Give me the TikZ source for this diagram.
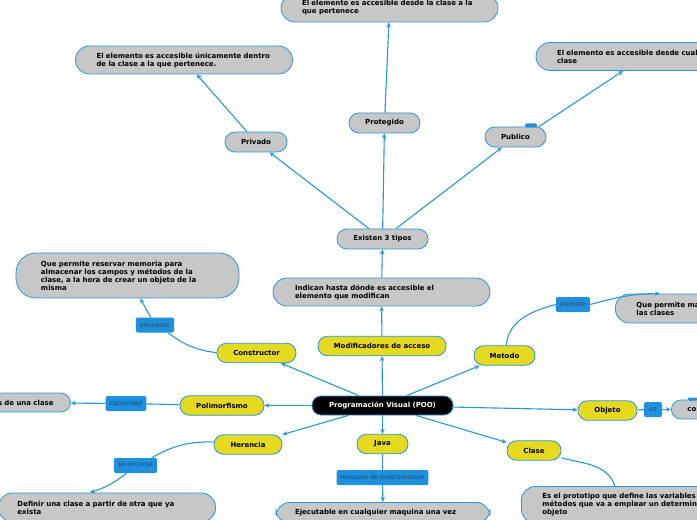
\documentclass[tikz,border=0pt]{standalone}
\usepackage{fontspec}
\setmainfont{DejaVu Sans}
\usetikzlibrary{arrows.meta,calc}

\definecolor{linkblue}{RGB}{38,152,224}
\definecolor{tagblue}{RGB}{30,144,222}
\definecolor{tagtext}{RGB}{36,70,110}
\definecolor{topicyellow}{RGB}{230,218,32}
\definecolor{notegray}{RGB}{199,199,199}

\begin{document}
\begin{tikzpicture}[x=1bp,y=-1bp,
  every node/.style={font=\bfseries\fontsize{7}{8}\selectfont, inner sep=0pt},
  root/.style={fill=black, text=white, draw=linkblue, line width=0.8bp, rounded corners=9bp, minimum height=19bp},
  topic/.style={fill=topicyellow, draw=linkblue, line width=0.8bp, rounded corners=9.5bp, minimum height=19.5bp},
  note/.style={fill=notegray, draw=linkblue, line width=0.8bp, rounded corners=10bp, minimum height=20bp},
  textnote/.style={note, align=left, inner xsep=21bp, text width=175bp, minimum height=28bp, rounded corners=14bp},
  tag/.style={fill=tagblue, text=tagtext, rounded corners=2bp, minimum height=15bp, inner xsep=4bp, font=\fontsize{6.4}{7}\selectfont},
  link/.style={draw=linkblue, line width=1.1bp},
  arrowlink/.style={link, -{Stealth[length=5bp,width=4.5bp]}}]
\useasboundingbox (0,0) rectangle (697,520);
\fill[white] (0,0) rectangle (697,520);
\clip (0,0) rectangle (697,520);

% Center
\node[root, minimum width=141bp] (poo) at (382.5,405.5) {Programación Visual (POO)};

% Modificadores de acceso
\node[topic, minimum width=128bp] (mod) at (382,346) {Modificadores de acceso};
\node[textnote, inner xsep=22bp, text width=173bp] (indican) at (381.5,292) {Indican hasta dónde es accesible el\\elemento que modifican};
\node[note, minimum width=91bp] (tipos) at (382.5,239) {Existen 3 tipos};
\node[note, minimum width=62bp] (priv) at (256,142) {Privado};
\node[note, minimum width=71bp] (prot) at (384.5,123) {Protegido};
\node[note, minimum width=61bp] (pub) at (515.5,137) {Publico};
\fill[tagblue, rounded corners=1.5bp] (525,123.5) rectangle (537,127.5);
\node[textnote] (privtxt) at (184,60) {El elemento es accesible únicamente dentro\\de la clase a la que pertenece.};
\node[textnote] (prottxt) at (389.5,8) {El elemento es accesible desde la clase a la\\que pertenece};
\node[textnote] (pubtxt) at (644.5,56.5) {El elemento es accesible desde cual\\clase};

% Constructor, Polimorfismo, Herencia
\node[topic, minimum width=79bp] (cons) at (256.5,353) {Constructor};
\node[topic, minimum width=84bp] (poli) at (222,405.5) {Polimorfismo};
\node[topic, minimum width=68bp] (her) at (248,444.5) {Herencia};
\node[tag] (tcons) at (155,325) {elemento};
\node[tag] (tpoli) at (126,403.5) {capacidad};
\node[tag] (ther) at (135.5,465.5) {se encarga};
\node[textnote, inner xsep=25bp, text width=173bp, minimum height=45bp, rounded corners=20bp] (reserva) at (127.5,275.5) {Que permite reservar memoria para\\almacenar los campos y métodos de la\\clase, a la hora de crear un objeto de la\\misma};
\node[note, anchor=east, align=right, inner xsep=17bp, text width=140bp, minimum height=19bp] (formas) at (71,402.5) {s de una clase};
\node[textnote, inner xsep=19bp, text width=179bp, minimum height=29bp] (definir) at (107,507.5) {Definir una clase a partir de otra que ya\\exista};

% Java
\node[topic, minimum width=51bp] (java) at (382.5,444) {Java};
\node[tag] (tjava) at (382.5,477.5) {lenguaje de programacion};
\node[textnote, anchor=north, inner xsep=19bp, text width=176bp, minimum height=0pt, inner ysep=7bp] (ejec) at (383,502) {Ejecutable en cualquier maquina una vez};

% Metodo, Objeto, Clase
\node[topic, minimum width=61bp] (met) at (504.5,355.5) {Metodo};
\node[topic, minimum width=59bp] (obj) at (607.5,410.5) {Objeto};
\node[topic, minimum width=54bp] (cla) at (534,450.5) {Clase};
\node[tag] (tmet) at (573,304.5) {elemeto};
\node[tag, minimum width=18bp] (tobj) at (653,409.5) {es};
\node[textnote, anchor=west, minimum height=29bp] (mani) at (615,308.5) {Que permite ma\\las clases};
\node[note, anchor=west, align=left, inner xsep=16bp, text width=60bp, minimum height=19bp, rounded corners=9.5bp] (co) at (671,409.5) {co};
\fill[tagblue, rounded corners=1bp] (688,397.5) rectangle (697,400.5);
\node[textnote, anchor=north west, minimum height=0pt, inner ysep=7bp] (proto) at (521,486) {Es el prototipo que define las variables y\\métodos que va a emplear un determina\\objeto};

% Connectors from the center
\draw[arrowlink] (poo) -- (mod);
\draw[arrowlink] (poo) -- (cons);
\draw[arrowlink] (poo) -- (poli);
\draw[arrowlink] (poo) -- (her);
\draw[arrowlink] (poo) -- (java);
\draw[arrowlink] (poo) -- (met);
\draw[arrowlink] (poo) -- (obj);
\draw[arrowlink] (poo) -- (cla);

% Access levels
\draw[arrowlink] (mod) -- (indican);
\draw[arrowlink] (indican) -- (tipos);
\draw[arrowlink] (tipos) -- (priv);
\draw[arrowlink] (tipos) -- (prot);
\draw[arrowlink] (tipos) -- (pub);
\draw[arrowlink] (priv) -- (privtxt);
\draw[arrowlink] (prot) -- (prottxt);
\draw[arrowlink] (pub.24) -- (pubtxt.214);

% Labelled links
\draw[link] (cons) to[bend left=15] (tcons);
\draw[arrowlink] (tcons) -- (reserva);
\draw[link] (poli) -- (tpoli);
\draw[arrowlink] (tpoli) -- (formas);
\draw[link] (her) to[bend right=15] (ther);
\draw[arrowlink] (ther) to[bend left=10] (definir.139.5);
\draw[link] (java) -- (tjava);
\draw[arrowlink] (tjava) -- (ejec);
\draw[link] (met.80) to[out=85, in=195] (tmet.west);
\draw[arrowlink] (tmet.east) to[out=15, in=180] ([xshift=45bp]mani.north west);
\draw[link] (obj) -- (tobj);
\draw[arrowlink] (tobj) -- (co);
\draw[link] (cla.-15) to[out=-15, in=110] ([xshift=94bp]proto.north west);
\end{tikzpicture}
\end{document}
